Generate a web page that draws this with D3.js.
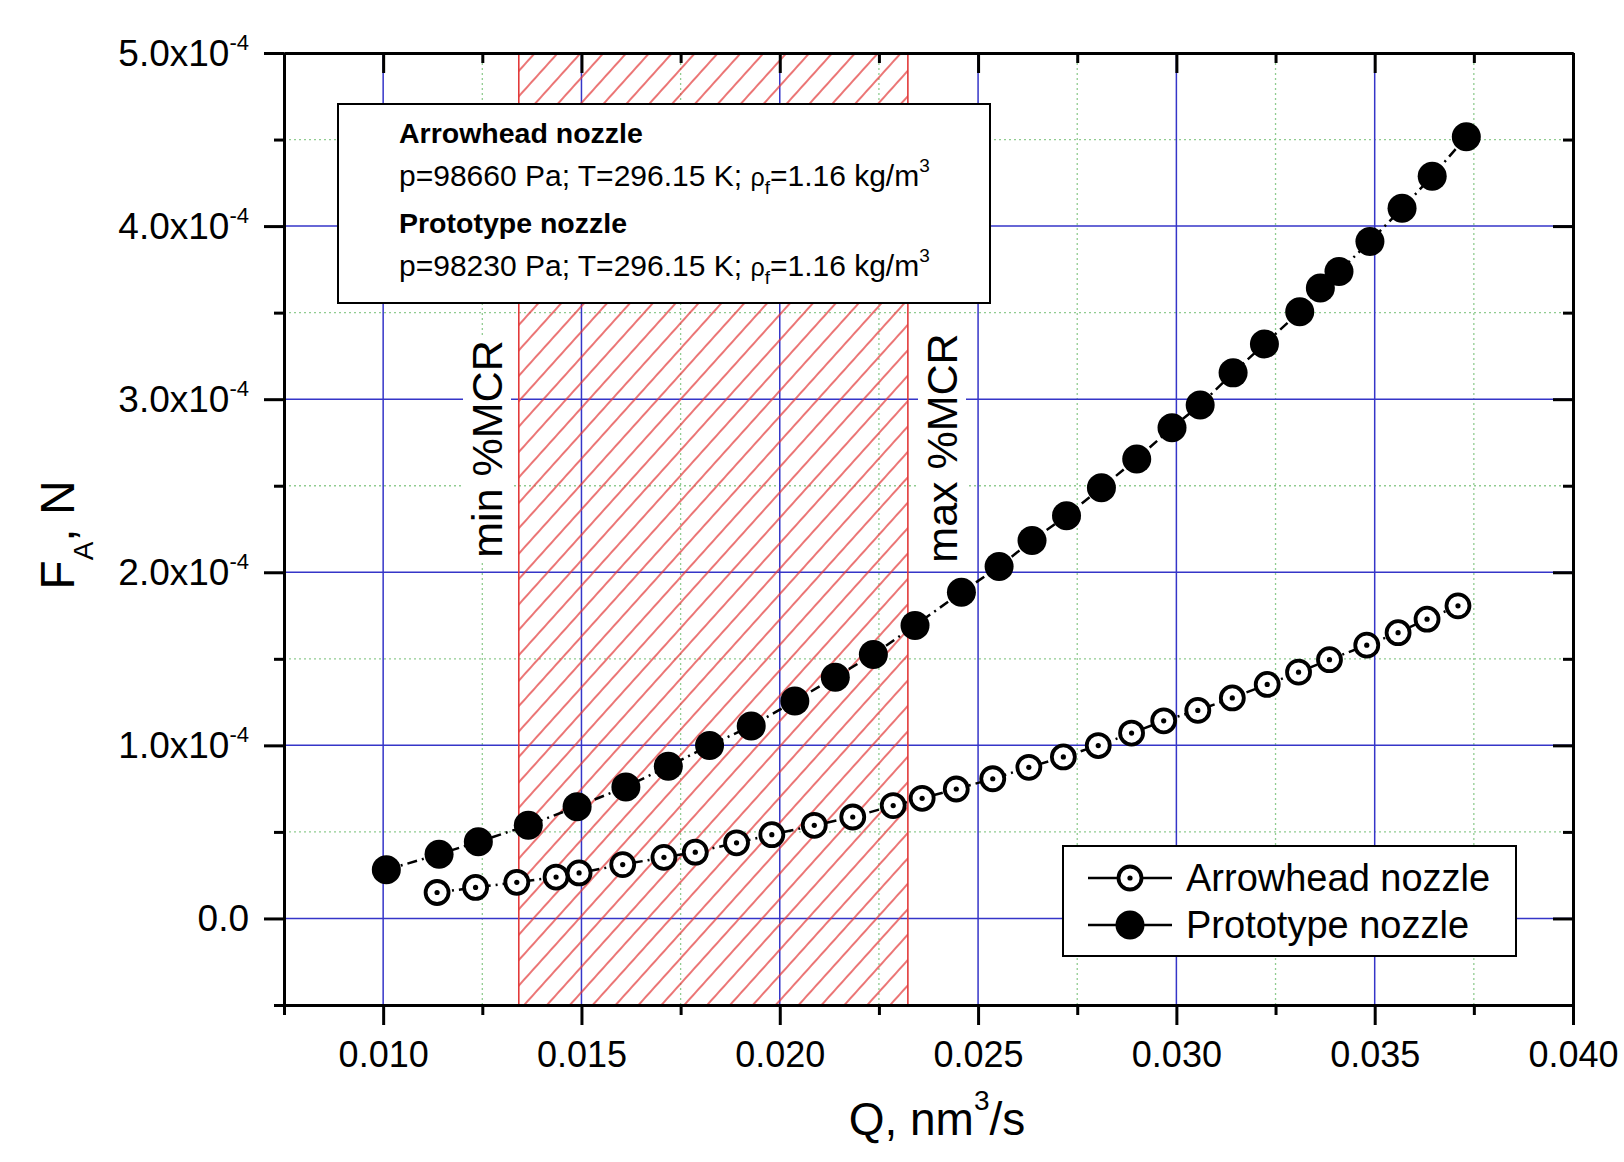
<!DOCTYPE html>
<html>
<head>
<meta charset="utf-8">
<script src="https://cdn.jsdelivr.net/npm/d3@7"></script>
<style>
body{margin:0;background:#fff}
svg{display:block;font-family:"Liberation Sans",Arial,sans-serif}
.gridMajor{stroke:#3535c8;stroke-width:1.5}
.gridMinor{stroke:#90cc90;stroke-width:1.3;stroke-dasharray:2,3}
.axis path,.axis line{stroke:#000;stroke-width:3}
.axis text{font-size:36px;fill:#000}
</style>
</head>
<body>
<svg width="1624" height="1162"></svg>
<script>
// data (Q in nm3/s, F_A in N)
const arrowQ = [0.01136, 0.01233, 0.01337, 0.01436, 0.01494, 0.01604, 0.01708, 0.01787, 0.01891, 0.01980,
	0.02087, 0.02184, 0.02286, 0.02359, 0.02445, 0.02537, 0.02628, 0.02715, 0.02803, 0.02887,
	0.02968, 0.03054, 0.03141, 0.03229, 0.03308, 0.03386, 0.03480, 0.03559, 0.03632, 0.03710]
const arrowF = [0.150e-4, 0.179e-4, 0.209e-4, 0.239e-4, 0.263e-4, 0.311e-4, 0.353e-4, 0.383e-4, 0.437e-4, 0.484e-4,
	0.538e-4, 0.586e-4, 0.652e-4, 0.694e-4, 0.748e-4, 0.807e-4, 0.873e-4, 0.933e-4, 0.999e-4, 1.071e-4,
	1.142e-4, 1.202e-4, 1.274e-4, 1.352e-4, 1.423e-4, 1.495e-4, 1.579e-4, 1.651e-4, 1.729e-4, 1.806e-4]

const protoQ = [0.01008, 0.01141, 0.01240, 0.01366, 0.01489, 0.01612, 0.01719, 0.01823, 0.01928, 0.02038,
	0.02140, 0.02236, 0.02341, 0.02458, 0.02553, 0.02636, 0.02723, 0.02811, 0.02900, 0.02989,
	0.03060, 0.03143, 0.03222, 0.03311, 0.03363, 0.03410, 0.03488, 0.03569, 0.03645, 0.03731]
const protoF = [0.281e-4, 0.371e-4, 0.443e-4, 0.538e-4, 0.646e-4, 0.760e-4, 0.879e-4, 0.999e-4, 1.112e-4, 1.256e-4,
	1.394e-4, 1.525e-4, 1.693e-4, 1.884e-4, 2.033e-4, 2.183e-4, 2.327e-4, 2.488e-4, 2.655e-4, 2.835e-4,
	2.967e-4, 3.152e-4, 3.319e-4, 3.505e-4, 3.642e-4, 3.738e-4, 3.911e-4, 4.103e-4, 4.288e-4, 4.516e-4]

// %MCR band
const mcrBand = [0.01342, 0.02323]

// ticks
const xMajor = [0.010, 0.015, 0.020, 0.025, 0.030, 0.035, 0.040]
const xMajorLabels = ["0.010", "0.015", "0.020", "0.025", "0.030", "0.035", "0.040"]
const xMinor = [0.0075, 0.0125, 0.0175, 0.0225, 0.0275, 0.0325, 0.0375]
const yMajor = [0, 1e-4, 2e-4, 3e-4, 4e-4, 5e-4]
const yMant = ["0.0", "1.0x10", "2.0x10", "3.0x10", "4.0x10", "5.0x10"]
const yExp = ["", "-4", "-4", "-4", "-4", "-4"]
const yMinor = [-0.5e-4, 0.5e-4, 1.5e-4, 2.5e-4, 3.5e-4, 4.5e-4]

const seriesNames = ["Arrowhead nozzle", "Prototype nozzle"]

const svg = d3.select("svg")
const L = 284, R = 1573, T = 53, B = 1005

const x = d3.scaleLinear().domain([0.0075, 0.040]).range([L, R])
const y = d3.scaleLinear().domain([-0.5e-4, 5e-4]).range([B, T])

svg.append("rect").attr("width", 1624).attr("height", 1162).attr("fill", "#fff")

//grid
const grid = svg.append("g")
grid.selectAll("line.gx").data(xMinor.filter(d => d > 0.0076)).enter().append("line")
	.attr("class", "gridMinor").attr("x1", d => x(d)).attr("x2", d => x(d)).attr("y1", T).attr("y2", B)
grid.selectAll("line.gy").data(yMinor.filter(d => d > -0.4e-4)).enter().append("line")
	.attr("class", "gridMinor").attr("y1", d => y(d)).attr("y2", d => y(d)).attr("x1", L).attr("x2", R)
grid.selectAll("line.Gx").data(xMajor.filter(d => d < 0.0399)).enter().append("line")
	.attr("class", "gridMajor").attr("x1", d => x(d)).attr("x2", d => x(d)).attr("y1", T).attr("y2", B)
grid.selectAll("line.Gy").data(yMajor.filter(d => d < 4.9e-4)).enter().append("line")
	.attr("class", "gridMajor").attr("y1", d => y(d)).attr("y2", d => y(d)).attr("x1", L).attr("x2", R)

//hatched band
const defs = svg.append("defs")
defs.append("pattern")
	.attr("id", "hatch")
	.attr("patternUnits", "userSpaceOnUse")
	.attr("width", 17).attr("height", 17)
	.attr("patternTransform", "rotate(42)")
	.append("line")
	.attr("x1", 8).attr("x2", 8).attr("y1", -2).attr("y2", 19)
	.attr("stroke", "#e23a3a").attr("stroke-width", 1.4)

svg.append("rect")
	.attr("x", x(mcrBand[0])).attr("y", T)
	.attr("width", x(mcrBand[1]) - x(mcrBand[0])).attr("height", B - T)
	.attr("fill", "url(#hatch)")
svg.selectAll("line.band").data(mcrBand).enter().append("line")
	.attr("x1", d => x(d)).attr("x2", d => x(d)).attr("y1", T).attr("y2", B)
	.attr("stroke", "#e23a3a").attr("stroke-width", 1.6)

//min / max labels with white back
function vLabel(px, py, txt) {
	const g = svg.append("g").attr("transform", `translate(${px},${py}) rotate(-90)`)
	const bg = g.append("rect").attr("fill", "#fff")
	const t = g.append("text").attr("text-anchor", "middle").attr("font-size", 43).text(txt)
	const bb = t.node().getBBox()
	bg.attr("x", bb.x - 3).attr("y", bb.y).attr("width", bb.width + 6).attr("height", bb.height)
}
vLabel(502, 449, "min %MCR")
vLabel(957, 448, "max %MCR")

//info box
const info = svg.append("g")
info.append("rect").attr("x", 338).attr("y", 104).attr("width", 652).attr("height", 199)
	.attr("fill", "#fff").attr("stroke", "#000").attr("stroke-width", 2)
const infoRows = [
	{name: seriesNames[0], p: "p=98660 Pa; T=296.15 K; ", y: 143},
	{name: seriesNames[1], p: "p=98230 Pa; T=296.15 K; ", y: 233}
]
infoRows.forEach(r => {
	info.append("text").attr("x", 399).attr("y", r.y).attr("font-size", 28.5).attr("font-weight", "bold").text(r.name)
	const t = info.append("text").attr("x", 399).attr("y", r.y + 43).attr("font-size", 30)
	t.append("tspan").text(r.p)
	t.append("tspan").text("ρ").attr("font-size", 25)
	t.append("tspan").text("f").attr("font-size", 19).attr("dy", 8)
	t.append("tspan").text("=1.16 kg/m").attr("dy", -8)
	t.append("tspan").text("3").attr("font-size", 19).attr("dy", -14)
})

//series lines
const line = d3.line().x(d => x(d[0])).y(d => y(d[1]))
const arrowPts = arrowQ.map((q, i) => [q, arrowF[i]])
const protoPts = protoQ.map((q, i) => [q, protoF[i]])

svg.append("path").datum(arrowPts).attr("d", line)
	.attr("fill", "none").attr("stroke", "#000").attr("stroke-width", 2.5).attr("stroke-dasharray", "10,5,2,5")
svg.append("path").datum(protoPts).attr("d", line)
	.attr("fill", "none").attr("stroke", "#000").attr("stroke-width", 2.5).attr("stroke-dasharray", "10,5,2,5")

function openMark(g, cx, cy) {
	g.append("circle").attr("cx", cx).attr("cy", cy).attr("r", 11.5)
		.attr("fill", "#fff").attr("stroke", "#000").attr("stroke-width", 3.8)
	g.append("circle").attr("cx", cx).attr("cy", cy).attr("r", 2.6).attr("fill", "#000")
}
const marks = svg.append("g")
arrowPts.forEach(d => openMark(marks, x(d[0]), y(d[1])))
marks.selectAll("circle.proto").data(protoPts).enter().append("circle")
	.attr("class", "proto")
	.attr("cx", d => x(d[0])).attr("cy", d => y(d[1])).attr("r", 14.5).attr("fill", "#000")

//legend
const leg = svg.append("g")
leg.append("rect").attr("x", 1063).attr("y", 846).attr("width", 453).attr("height", 110)
	.attr("fill", "#fff").attr("stroke", "#000").attr("stroke-width", 2)
seriesNames.forEach((n, i) => {
	const ly = 878 + i * 47
	leg.append("line").attr("x1", 1088).attr("x2", 1172).attr("y1", ly).attr("y2", ly)
		.attr("stroke", "#000").attr("stroke-width", 2.5)
	if (i == 0) openMark(leg, 1130, ly)
	else leg.append("circle").attr("cx", 1130).attr("cy", ly).attr("r", 14.5).attr("fill", "#000")
	leg.append("text").attr("x", 1186).attr("y", ly + 13).attr("font-size", 38).text(n)
})

//axes
svg.append("g").attr("class", "axis").attr("transform", `translate(0,${B})`)
	.call(d3.axisBottom(x).tickValues(xMajor).tickSize(20).tickSizeOuter(0)
		.tickFormat((d, i) => xMajorLabels[i]))
	.call(g => g.selectAll("text").attr("y", 36))
svg.append("g").attr("class", "axis").attr("transform", `translate(0,${B})`)
	.call(d3.axisBottom(x).tickValues(xMinor).tickSize(10).tickSizeOuter(0).tickFormat(""))
svg.append("g").attr("class", "axis").attr("transform", `translate(0,${T})`)
	.call(d3.axisTop(x).tickValues(xMajor).tickSize(-20).tickSizeOuter(0).tickFormat(""))
svg.append("g").attr("class", "axis").attr("transform", `translate(0,${T})`)
	.call(d3.axisTop(x).tickValues(xMinor).tickSize(-10).tickSizeOuter(0).tickFormat(""))

svg.append("g").attr("class", "axis").attr("transform", `translate(${L},0)`)
	.call(d3.axisLeft(y).tickValues(yMajor).tickSize(20).tickSizeOuter(0).tickFormat(""))
svg.append("g").attr("class", "axis").attr("transform", `translate(${L},0)`)
	.call(d3.axisLeft(y).tickValues(yMinor).tickSize(10).tickSizeOuter(0).tickFormat(""))
svg.append("g").attr("class", "axis").attr("transform", `translate(${R},0)`)
	.call(d3.axisRight(y).tickValues(yMajor).tickSize(-20).tickSizeOuter(0).tickFormat(""))
svg.append("g").attr("class", "axis").attr("transform", `translate(${R},0)`)
	.call(d3.axisRight(y).tickValues(yMinor).tickSize(-10).tickSizeOuter(0).tickFormat(""))

// y tick labels with exponent
yMajor.forEach((v, i) => {
	const t = svg.append("text").attr("x", 249).attr("y", y(v) + 13)
		.attr("text-anchor", "end").attr("font-size", 37)
	t.append("tspan").text(yMant[i])
	if (yExp[i]) t.append("tspan").text(yExp[i]).attr("font-size", 22).attr("dy", -16)
})

//axis titles
const xt = svg.append("text").attr("x", 937).attr("y", 1135).attr("text-anchor", "middle").attr("font-size", 46)
xt.append("tspan").text("Q, nm")
xt.append("tspan").text("3").attr("font-size", 28).attr("dy", -25)
xt.append("tspan").text("/s").attr("dy", 25)

const yt = svg.append("text").attr("transform", "translate(74,535) rotate(-90)")
	.attr("text-anchor", "middle").attr("font-size", 48)
yt.append("tspan").text("F")
yt.append("tspan").text("A").attr("font-size", 28).attr("dy", 19)
yt.append("tspan").text(", N").attr("dy", -19)
</script>
</body>
</html>
